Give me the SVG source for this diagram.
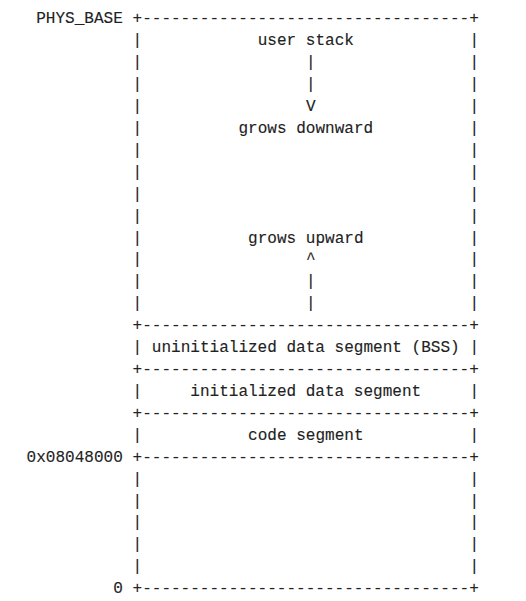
<svg xmlns="http://www.w3.org/2000/svg" width="526" height="601" viewBox="0 0 526 601">
<style>
text{font-family:"Liberation Mono","DejaVu Sans Mono",monospace;font-size:16.05px;fill:#222;stroke:#222;stroke-width:0.12px;white-space:pre}
</style>
<rect width="526" height="601" fill="#fff"/>
<g id="address-labels">
<text x="36.2" y="23.3">PHYS_BASE</text>
<text x="26.56" y="461.7">0x08048000</text>
<text x="113.25" y="593.22">0</text>
</g>
<g id="connectors">
<text x="132.52" y="23.3">+----------------------------------+</text>
<text x="132.52" y="330.18">+----------------------------------+</text>
<text x="132.52" y="374.02">+----------------------------------+</text>
<text x="132.52" y="417.86">+----------------------------------+</text>
<text x="132.52" y="461.7">+----------------------------------+</text>
<text x="132.52" y="593.22">+----------------------------------+</text>
</g>
<g id="user-stack">
<text x="132.52" y="45.22">|</text><text x="469.6" y="45.22">|</text>
<text x="257.7" y="45.22">user stack</text>
<text x="132.52" y="67.14">|</text><text x="305.9" y="67.14">|</text><text x="469.6" y="67.14">|</text>
<text x="132.52" y="89.06">|</text><text x="305.9" y="89.06">|</text><text x="469.6" y="89.06">|</text>
<text x="132.52" y="110.98">|</text><text x="305.9" y="110.98">V</text><text x="469.6" y="110.98">|</text>
<text x="132.52" y="132.9">|</text><text x="238.5" y="132.9">grows downward</text><text x="469.6" y="132.9">|</text>
<text x="132.52" y="154.82">|</text><text x="469.6" y="154.82">|</text>
<text x="132.52" y="176.74">|</text><text x="469.6" y="176.74">|</text>
<text x="132.52" y="198.66">|</text><text x="469.6" y="198.66">|</text>
<text x="132.52" y="220.58">|</text><text x="469.6" y="220.58">|</text>
<text x="132.52" y="242.5">|</text><text x="248.1" y="242.5">grows upward</text><text x="469.6" y="242.5">|</text>
<text x="132.52" y="264.42">|</text><text x="305.9" y="264.42">^</text><text x="469.6" y="264.42">|</text>
<text x="132.52" y="286.34">|</text><text x="305.9" y="286.34">|</text><text x="469.6" y="286.34">|</text>
<text x="132.52" y="308.26">|</text><text x="305.9" y="308.26">|</text><text x="469.6" y="308.26">|</text>
</g>
<g id="bss-segment">
<text x="132.52" y="352.1">|</text><text x="151.8" y="352.1">uninitialized data segment (BSS)</text><text x="469.6" y="352.1">|</text>
</g>
<g id="data-segment">
<text x="132.52" y="395.94">|</text><text x="190.3" y="395.94">initialized data segment</text><text x="469.6" y="395.94">|</text>
</g>
<g id="code-segment">
<text x="132.52" y="439.78">|</text><text x="248.1" y="439.78">code segment</text><text x="469.6" y="439.78">|</text>
</g>
<g id="unmapped-region">
<text x="132.52" y="483.62">|</text><text x="469.6" y="483.62">|</text>
<text x="132.52" y="505.54">|</text><text x="469.6" y="505.54">|</text>
<text x="132.52" y="527.46">|</text><text x="469.6" y="527.46">|</text>
<text x="132.52" y="549.38">|</text><text x="469.6" y="549.38">|</text>
<text x="132.52" y="571.3">|</text><text x="469.6" y="571.3">|</text>
</g>
</svg>
